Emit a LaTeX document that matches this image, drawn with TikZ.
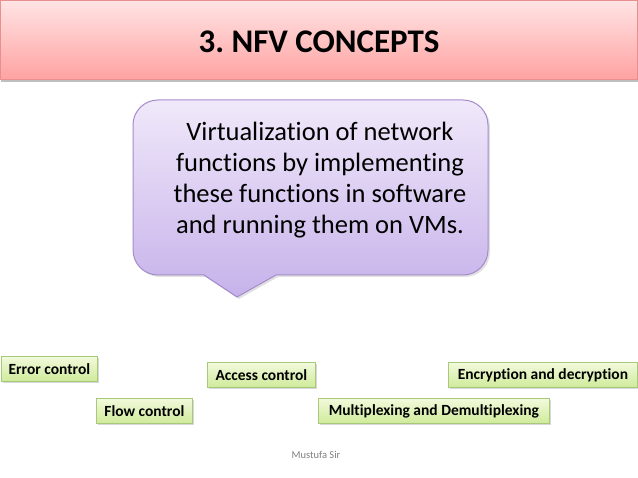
\documentclass[tikz,border=0pt]{standalone}
\usepackage{fontspec}
\setmainfont[Ligatures=NoCommon]{Carlito}
\usetikzlibrary{shadows}
\definecolor{titletop}{HTML}{FFE4E4}
\definecolor{titlebot}{HTML}{FFA2A2}
\definecolor{titleedge}{HTML}{E89090}
\definecolor{calltop}{HTML}{F0E8FA}
\definecolor{callbot}{HTML}{C6B2EA}
\definecolor{calledge}{HTML}{A48CCC}
\definecolor{gtop}{HTML}{F2FADC}
\definecolor{gbot}{HTML}{CFEA9A}
\definecolor{gedge}{HTML}{A9C97A}
\tikzset{
  tagbox/.style={draw=gedge, line width=0.8pt, top color=gtop, bottom color=gbot,
    anchor=north west, inner sep=0pt, font=\fontsize{15.5}{17}\selectfont\bfseries,
    drop shadow={shadow xshift=1.5pt, shadow yshift=-1.5pt, opacity=0.25, fill=black!60}},
}
\begin{document}
\begin{tikzpicture}[x=1pt,y=-1pt]
\useasboundingbox (0,0) rectangle (638,478);
\fill[white] (0,0) rectangle (638,478);
% title band
\fill[black!25] (1,4) rectangle (638,82);
\path[draw=titleedge, line width=0.8pt, top color=titletop, bottom color=titlebot] (0.5,0.5) rectangle (637.5,79);
\node (title) at (319,42) {\fontsize{33}{40}\selectfont\bfseries 3.~NFV CONCEPTS};
% callout
\path[draw=calledge, line width=1pt, top color=calltop, bottom color=callbot,
  drop shadow={shadow xshift=2pt, shadow yshift=-2pt, opacity=0.2, fill=black!60}]
  (158,100) -- (463,100) arc[start angle=-90, end angle=0, radius=25] -- (488,250)
  arc[start angle=0, end angle=90, radius=25] -- (276,275) -- (237,297) -- (204,275)
  -- (158,275) arc[start angle=90, end angle=180, radius=25] -- (133,125)
  arc[start angle=180, end angle=270, radius=25] -- cycle;
\node[align=center, font=\fontsize{26.5}{31}\selectfont, inner sep=0pt] (call) at (320,180)
  {Virtualization of network\\functions by implementing\\these functions in software\\and running them on VMs.};
% boxes
\node[tagbox, minimum width=96pt, minimum height=25pt] (err) at (1,356) {Error control};
\node[tagbox, minimum width=108pt, minimum height=25pt] (acc) at (207,362) {Access control};
\node[tagbox, minimum width=189pt, minimum height=25pt] (enc) at (448,362) {Encryption and decryption};
\node[tagbox, minimum width=96pt, minimum height=25pt] (flow) at (96,398) {Flow control};
\node[tagbox, minimum width=231pt, minimum height=25pt] (mux) at (318,398) {Multiplexing and Demultiplexing};
\node[text=black!50, font=\fontsize{10.5}{13}\selectfont] (auth) at (316,455) {Mustufa Sir};
\end{tikzpicture}
\end{document}
